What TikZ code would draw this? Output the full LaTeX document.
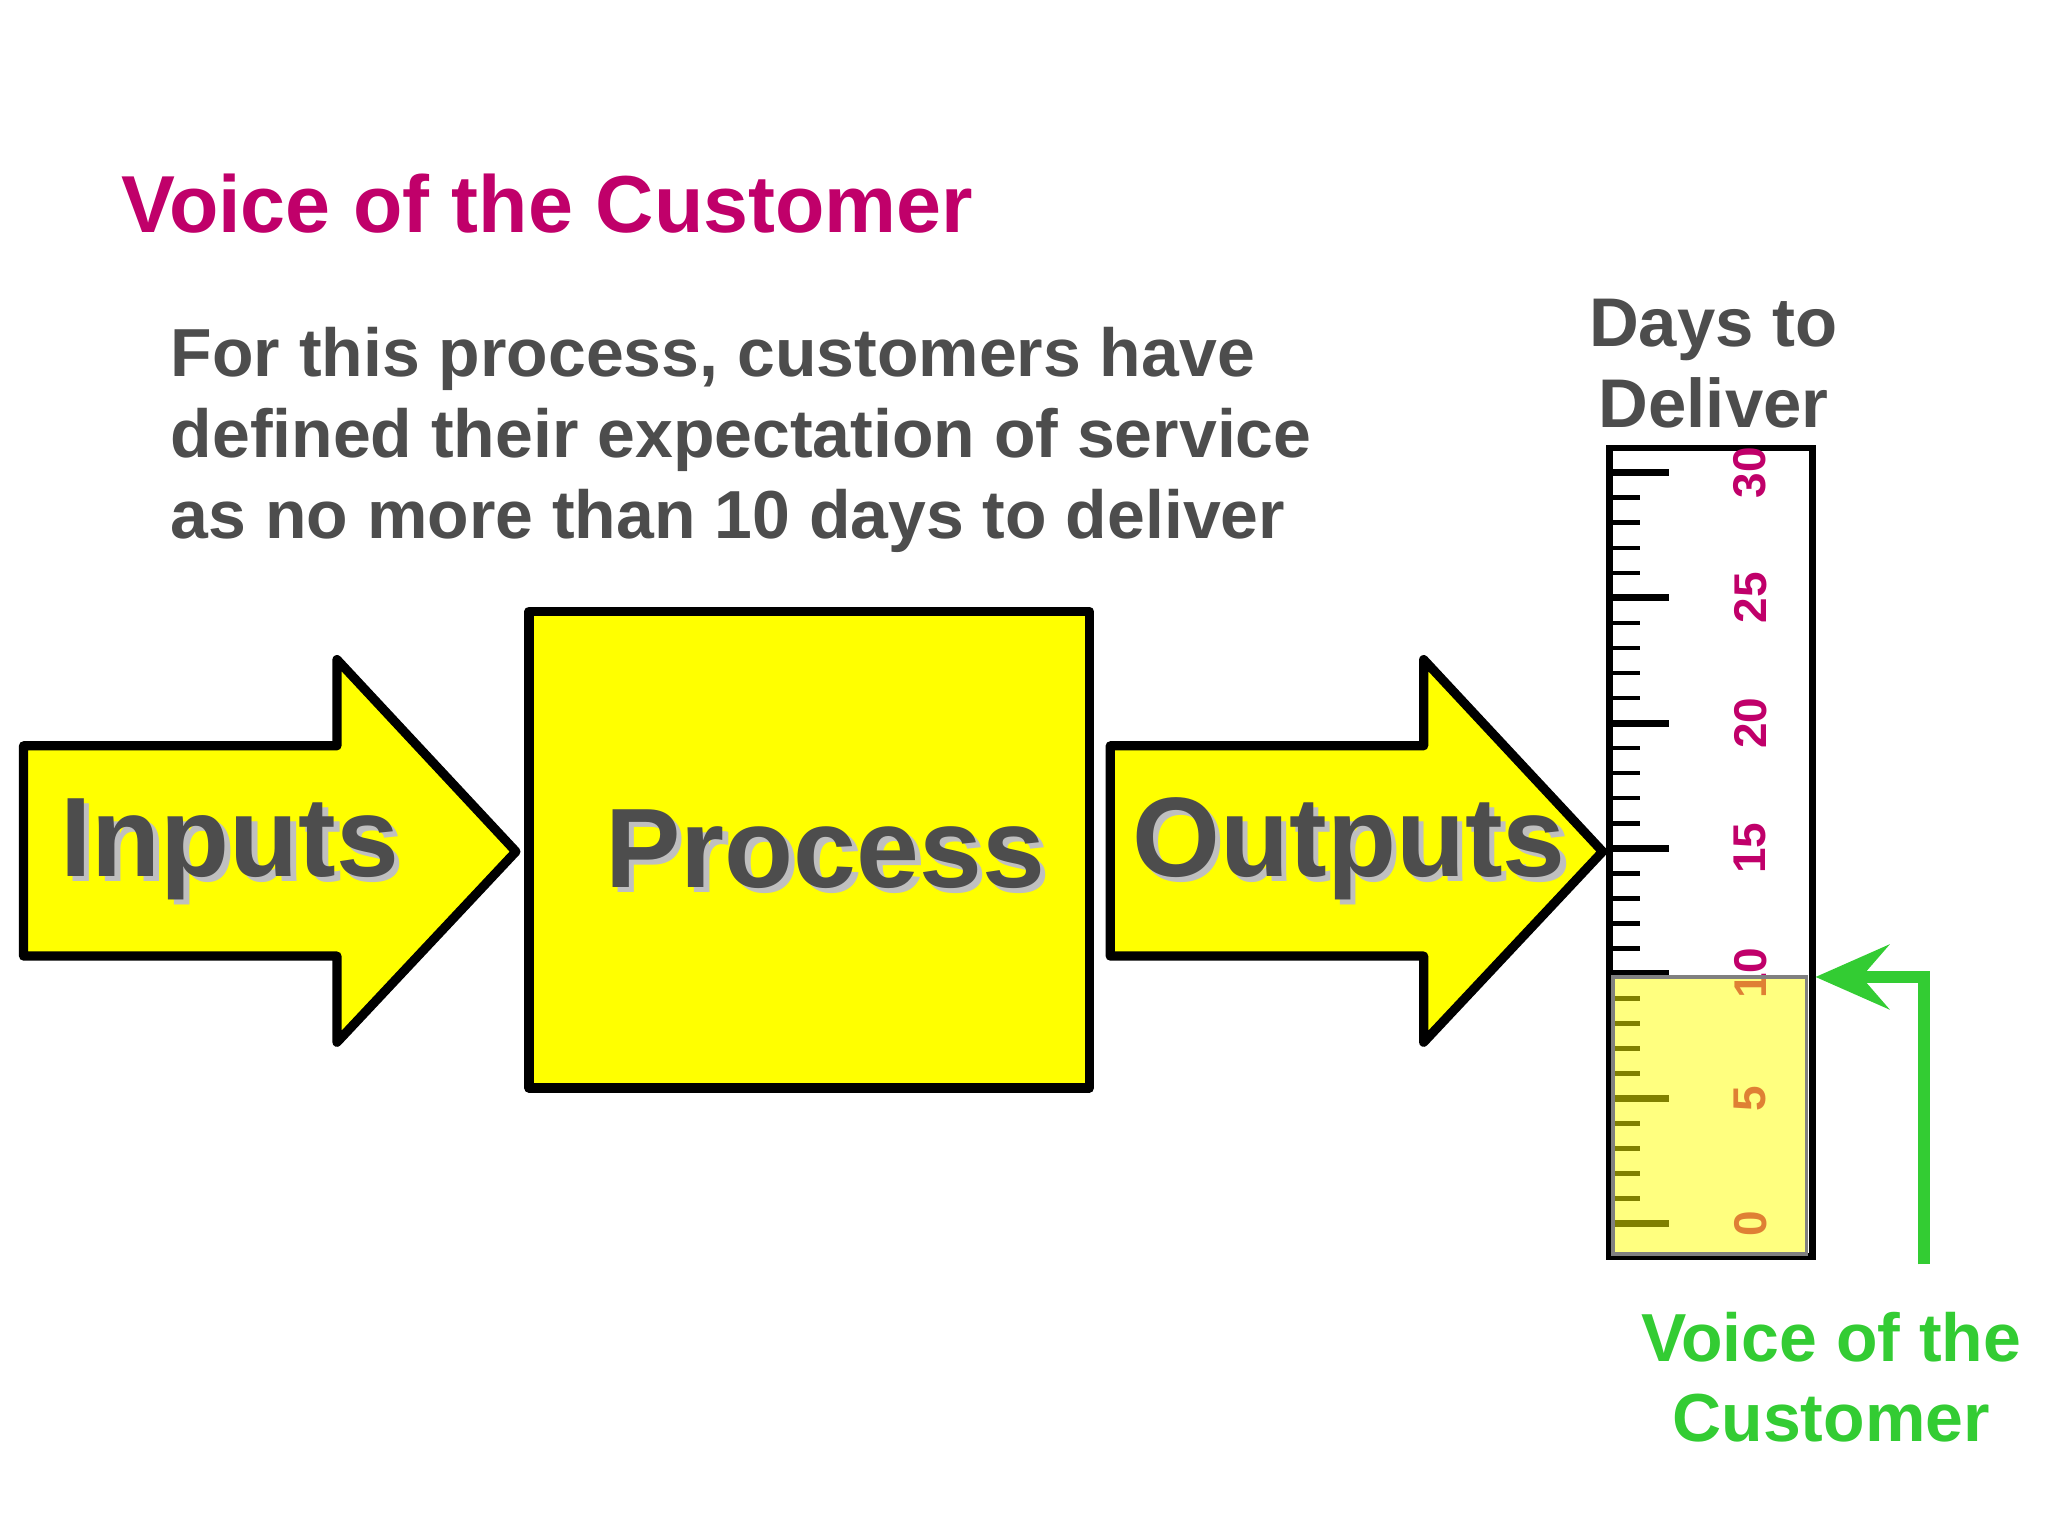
\documentclass[tikz,border=0pt]{standalone}
\usepackage{fontspec}
\setmainfont{Liberation Sans}
\usetikzlibrary{arrows.meta}
\definecolor{txt}{HTML}{4D4D4D}
\definecolor{mag}{HTML}{C0006A}
\definecolor{grn}{HTML}{33CC33}
\definecolor{yel}{HTML}{FFFF00}
\begin{document}
\begin{tikzpicture}[x=0.01cm,y=-0.01cm,
  yshape/.style={draw=black,line width=2pt,fill=yel,line join=round},
  big/.style={font=\fontsize{24.6}{28}\selectfont\bfseries,text=txt},
  shad/.style={font=\fontsize{24.6}{28}\selectfont\bfseries,text=black!25},
  tick/.style={line width=1pt}]
\useasboundingbox (0,0) rectangle (1568,1176);
\node[anchor=base west,inner sep=0pt,font=\fontsize{17.6}{20}\selectfont\bfseries,text=mag] (title) at (92,178) {Voice of the Customer};
\node[anchor=base west,inner sep=0pt,font=\fontsize{14.8}{17.6}\selectfont\bfseries,text=txt,align=left] (para) at (130,412)
 {For this process, customers have\\defined their expectation of service\\as no more than 10 days to deliver};
\draw[yshape] (18,571)--(258,571)--(258,505)--(395,652)--(258,798)--(258,732)--(18,732)--cycle;
\draw[yshape] (405,468) rectangle (834,833);
\draw[yshape] (850,571)--(1090,571)--(1090,505)--(1227,652)--(1090,798)--(1090,732)--(850,732)--cycle;
\node[shad] at (180,654) {Inputs};
\node[big] (in) at (176,650) {Inputs};
\node[shad] at (636,654) {Process};
\node[big] (pr) at (632,650) {Process};
\node[shad] at (1037,654) {Outputs};
\node[big] (out) at (1033,650) {Outputs};
% ruler
\draw[line width=1.5pt,fill=white] (1232,343) rectangle (1388,962);
\foreach \i in {0,...,30}{
  \pgfmathsetmacro{\yy}{937-\i*19.17}
  \pgfmathtruncatemacro{\m}{mod(\i,5)}
  \ifnum\m=0 \draw[tick,line width=1.5pt] (1232,\yy)--(1278,\yy);
  \else \draw[tick] (1232,\yy)--(1256,\yy); \fi}
\foreach \i in {0,5,...,30}{
  \node[rotate=90,font=\fontsize{10}{12}\selectfont\bfseries,text=mag] at (1340,937-\i*19.17) {\i};}
\fill[yel,opacity=0.5] (1235,748) rectangle (1383,960);
\draw[black!50,line width=0.8pt] (1235,748) rectangle (1383,960);
\node[anchor=base,inner sep=0pt,font=\fontsize{15}{17.5}\selectfont\bfseries,text=txt,align=center] (days) at (1312,327) {Days to\\Deliver};
\coordinate (g0) at (1473,968);
\coordinate (g1) at (1390,748);
\draw[grn,line width=2.6pt,-{Stealth[length=16pt,width=14pt,inset=6pt]}] (g0)--(1473,748)--(g1);
\node[anchor=base,inner sep=0pt,font=\fontsize{14.8}{17.5}\selectfont\bfseries,text=grn,align=center] (voc) at (1402,1104) {Voice of the\\Customer};
\end{tikzpicture}
\end{document}
